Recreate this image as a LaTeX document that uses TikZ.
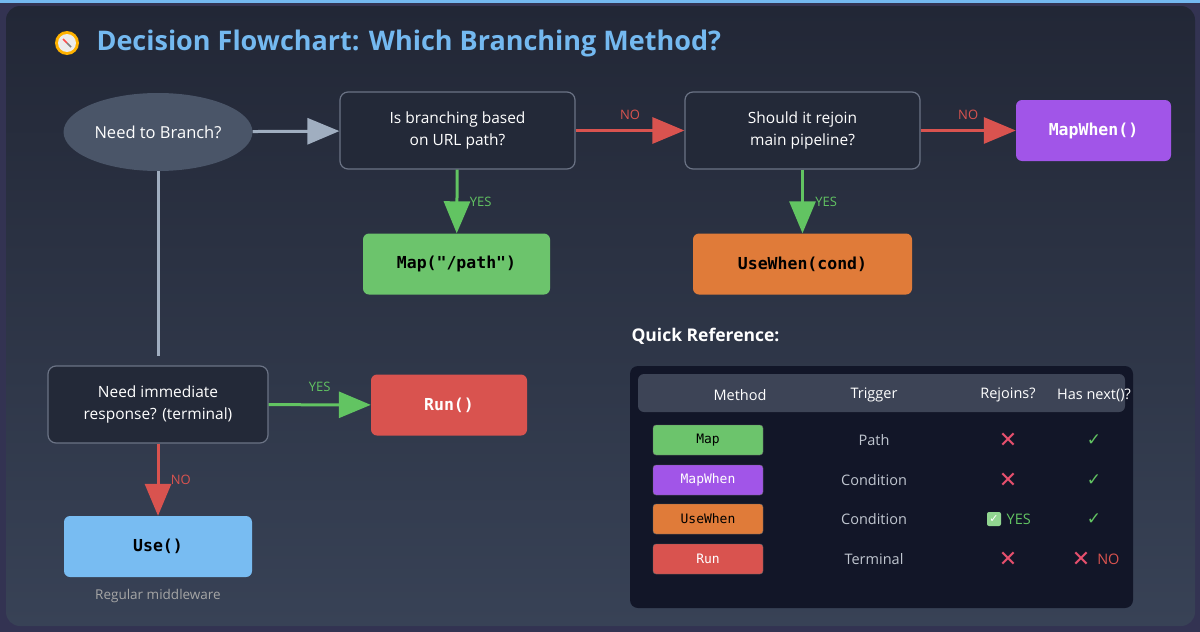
\documentclass[tikz,border=0pt]{standalone}
\usepackage{fontspec}
\setmainfont{Open Sans}
\setsansfont{Open Sans}
\setmonofont{DejaVu Sans Mono}
\newfontfamily\symfont{DejaVu Sans}
\usetikzlibrary{shapes.geometric,arrows.meta,positioning,calc}
\definecolor{bgtop}{HTML}{222736}
\definecolor{bgbot}{HTML}{384256}
\definecolor{boxfill}{HTML}{232938}
\definecolor{boxline}{HTML}{6B7385}
\definecolor{ellfill}{HTML}{4A5568}
\definecolor{arrgray}{HTML}{A0AEC0}
\definecolor{nored}{HTML}{D9534F}
\definecolor{yesgreen}{HTML}{62C462}
\definecolor{mapgreen}{HTML}{6CC46C}
\definecolor{purp}{HTML}{A155E8}
\definecolor{orng}{HTML}{E07B39}
\definecolor{lblue}{HTML}{78BCF2}
\definecolor{titleblue}{HTML}{74B9F0}
\definecolor{tblfill}{HTML}{121628}
\definecolor{hdrfill}{HTML}{3D4456}
\definecolor{trig}{HTML}{C0C6D0}
\definecolor{xpink}{HTML}{E8506E}
\tikzset{
    question/.style={draw=boxline, line width=1.2pt, fill=boxfill, rounded corners=8pt,
                     minimum width=235, minimum height=77, align=center, text=white,
                     font=\fontsize{15.5}{22}\selectfont},
    result/.style={rounded corners=6pt, minimum height=61, font=\fontsize{16.5}{19}\selectfont\ttfamily\bfseries},
    pill/.style={rounded corners=3pt, minimum width=110, minimum height=30, draw=black!60,
                 font=\fontsize{13}{15}\selectfont\ttfamily},
    bigtip/.style={-{Triangle[length=32pt,width=26pt]}},
    yesarr/.style={draw=yesgreen, line width=3pt, bigtip},
    noarr/.style={draw=nored, line width=3pt, bigtip},
    yeslbl/.style={text=yesgreen, font=\fontsize{13}{15}\selectfont},
    nolbl/.style={text=nored, font=\fontsize{13}{15}\selectfont},
    hdr/.style={text=white, font=\fontsize{14.5}{16}\selectfont},
    cell/.style={text=trig, font=\fontsize{14.5}{16}\selectfont},
    xmark/.style={text=xpink, font=\fontsize{22}{22}\selectfont\symfont},
    vmark/.style={text=yesgreen, font=\fontsize{17}{17}\selectfont\symfont},
}
\begin{document}
\begin{tikzpicture}[x=1pt,y=-1pt]
    \useasboundingbox (0,0) rectangle (1200,632);
    % background
    \fill[black!80!blue!60!gray] (0,0) rectangle (1200,632);
    \fill[titleblue] (0,0) rectangle (1200,3);
    \shade[rounded corners=14pt, top color=bgtop, bottom color=bgbot] (6,6) rectangle (1195,626);

    % title
    \fill[orange!60!yellow] (67,43) circle (12);
    \fill[white!85!gray] (67,43) circle (9);
    \draw[red!70, line width=1.5pt] (63,39) -- (67,43);
    \draw[gray, line width=1.5pt] (67,43) -- (71,47);
    \node[anchor=west, text=titleblue, font=\fontsize{27}{30}\selectfont\bfseries] (title) at (93,43)
        {Decision Flowchart: Which Branching Method?};

    % decisions
    \node[ellipse, fill=ellfill, minimum width=188, minimum height=78, text=white,
          font=\fontsize{16.5}{19}\selectfont] (branch) at (158,132) {Need to Branch?};
    \node[question] (urlq) at (457.5,130.5) {Is branching based\\on URL path?};
    \node[question] (rejoinq) at (802.5,130.5) {Should it rejoin\\main pipeline?};
    \node[question, minimum width=220] (termq) at (158,404.5) {Need immediate\\response? (terminal)};

    % results
    \node[result, fill=purp, text=white, minimum width=155] (mapwhen) at (1093.5,130.5) {MapWhen()};
    \node[result, fill=mapgreen, text=black, minimum width=187] (map) at (456.5,264) {Map("/path")};
    \node[result, fill=orng, text=black, minimum width=219] (usewhen) at (802.5,264) {UseWhen(cond)};
    \node[result, fill=nored, text=white, minimum width=156] (run) at (449,405) {Run()};
    \node[result, fill=lblue, text=black, minimum width=188] (use) at (158,546.5) {Use()};
    \node[text=gray!70, font=\fontsize{13.5}{15}\selectfont, below=9pt of use] (usenote) {Regular middleware};

    % connectors
    \draw[draw=arrgray, line width=3pt, bigtip] (branch) -- (urlq);
    \draw[noarr] (urlq) -- node[nolbl, above=6pt] {NO} (rejoinq);
    \draw[noarr] (rejoinq) -- node[nolbl, above=6pt] {NO} (mapwhen);
    \draw[yesarr] (urlq) -- node[yeslbl, right=8pt] {YES} (map);
    \draw[yesarr] (rejoinq) -- node[yeslbl, right=8pt] {YES} (usewhen);
    \draw[draw=arrgray, line width=3pt] (branch.south) -- ($(termq.north)+(0,-9)$);
    \draw[yesarr] (termq) -- node[yeslbl, above=8pt] {YES} (run);
    \draw[noarr] (termq) -- node[nolbl, right=8pt] {NO} (use);

    % quick reference
    \node[anchor=west, text=white, font=\fontsize{17.5}{20}\selectfont\bfseries] (qref) at (628,336) {Quick Reference:};
    \fill[tblfill, rounded corners=8pt] (630,366) rectangle (1133,608);
    \fill[hdrfill, rounded corners=6pt] (638,374) rectangle (1125,412);
    \node[hdr] (hmethod) at (740,395) {Method};
    \node[hdr] (htrig) at (874,395) {Trigger};
    \node[hdr] (hrej) at (1008,395) {Rejoins?};
    \node[hdr] (hnext) at (1094,395) {Has next()?};

    \node[pill, fill=mapgreen, text=black] (pmap) at (708,440) {Map};
    \node[pill, fill=purp, text=white] (pmapwhen) at (708,480) {MapWhen};
    \node[pill, fill=orng, text=black] (pusewhen) at (708,519) {UseWhen};
    \node[pill, fill=nored, text=white] (prun) at (708,559) {Run};

    \foreach \y/\t in {440/Path, 480/Condition, 519/Condition, 559/Terminal}
        \node[cell] at (874,\y) {\t};
    \foreach \y in {440,480,559}
        \node[xmark] at (1008,\y) {✕};
    \foreach \y in {440,480,519}
        \node[vmark] at (1094,\y) {✓};
    \node[fill=yesgreen!70!white, rounded corners=2pt, minimum size=14, inner sep=0, text=white,
          font=\fontsize{11}{11}\selectfont\symfont] (chk) at (994,519) {✓};
    \node[yeslbl, font=\fontsize{14.5}{16}\selectfont, right=2pt of chk] {YES};
    \node[xmark] (xno) at (1081,559) {✕};
    \node[nolbl, font=\fontsize{14.5}{16}\selectfont, right=0pt of xno] {NO};
\end{tikzpicture}
\end{document}
